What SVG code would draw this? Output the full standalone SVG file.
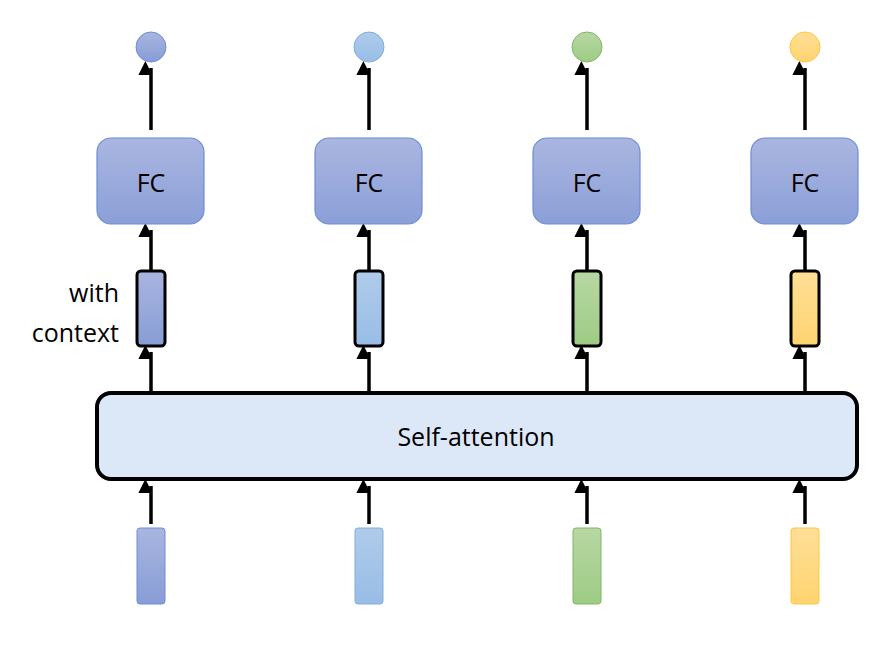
<svg xmlns="http://www.w3.org/2000/svg" width="896" height="648" viewBox="0 0 896 648">
<style>
text{font-family:"Open Sans","Liberation Sans",sans-serif;fill:#000}
.fc{stroke:#6d8ed6;stroke-width:1.2;fill:url(#gFC)}
.ctx{stroke:#000;stroke-width:3}
.arr{stroke:#000;stroke-width:3.5;fill:none;marker-end:url(#ah)}
</style>
<defs>
<marker id="ah" viewBox="0 0 10 10" refX="5" refY="9" markerWidth="4" markerHeight="4" orient="auto-start-reverse" markerUnits="strokeWidth"><path d="M0,10 L5,0 L10,10 z" fill="#000" transform="rotate(90 5 5)"/></marker>
<linearGradient id="gFC" x1="0" y1="0" x2="0" y2="1"><stop offset="0" stop-color="#aab6e0"/><stop offset="1" stop-color="#8b9fd8"/></linearGradient>
<linearGradient id="g1" x1="0" y1="0" x2="0" y2="1"><stop offset="0" stop-color="#a9b5e0"/><stop offset="1" stop-color="#879dd6"/></linearGradient>
<linearGradient id="g2" x1="0" y1="0" x2="0" y2="1"><stop offset="0" stop-color="#b0cbea"/><stop offset="1" stop-color="#98bde6"/></linearGradient>
<linearGradient id="g3" x1="0" y1="0" x2="0" y2="1"><stop offset="0" stop-color="#b8d7a4"/><stop offset="1" stop-color="#9dcc84"/></linearGradient>
<linearGradient id="g4" x1="0" y1="0" x2="0" y2="1"><stop offset="0" stop-color="#ffdf97"/><stop offset="1" stop-color="#ffd470"/></linearGradient>
</defs>
<g id="connectors">
<line class="arr" x1="151" y1="130" x2="151" y2="68"/><line class="arr" x1="369" y1="130" x2="369" y2="68"/><line class="arr" x1="587" y1="130" x2="587" y2="68"/><line class="arr" x1="805" y1="130" x2="805" y2="68"/>
<line class="arr" x1="151" y1="270" x2="151" y2="230"/><line class="arr" x1="369" y1="270" x2="369" y2="230"/><line class="arr" x1="587" y1="270" x2="587" y2="230"/><line class="arr" x1="805" y1="270" x2="805" y2="230"/>
<line class="arr" x1="151" y1="392" x2="151" y2="352"/><line class="arr" x1="369" y1="392" x2="369" y2="352"/><line class="arr" x1="587" y1="392" x2="587" y2="352"/><line class="arr" x1="805" y1="392" x2="805" y2="352"/>
<line class="arr" x1="151" y1="524" x2="151" y2="486"/><line class="arr" x1="369" y1="524" x2="369" y2="486"/><line class="arr" x1="587" y1="524" x2="587" y2="486"/><line class="arr" x1="805" y1="524" x2="805" y2="486"/>
</g>
<g id="out1"><circle cx="151" cy="47" r="15" fill="url(#g1)" stroke="#6d8ed6"/></g>
<g id="out2"><circle cx="369" cy="47" r="15" fill="url(#g2)" stroke="#7eaee0"/></g>
<g id="out3"><circle cx="587" cy="47" r="15" fill="url(#g3)" stroke="#7fb764"/></g>
<g id="out4"><circle cx="805" cy="47" r="15" fill="url(#g4)" stroke="#ffc740"/></g>
<g id="fc1"><rect class="fc" x="97" y="138" width="107" height="86" rx="14"/><text x="151" y="192" font-size="25" text-anchor="middle">FC</text></g>
<g id="fc2"><rect class="fc" x="315" y="138" width="107" height="86" rx="14"/><text x="369" y="192" font-size="25" text-anchor="middle">FC</text></g>
<g id="fc3"><rect class="fc" x="533" y="138" width="107" height="86" rx="14"/><text x="587" y="192" font-size="25" text-anchor="middle">FC</text></g>
<g id="fc4"><rect class="fc" x="751" y="138" width="107" height="86" rx="14"/><text x="805" y="192" font-size="25" text-anchor="middle">FC</text></g>
<g id="label"><text x="119" y="302" font-size="25" text-anchor="end">with</text><text x="119" y="342" font-size="25" text-anchor="end">context</text></g>
<g id="ctx1"><rect class="ctx" x="137" y="271" width="28" height="75" rx="4" fill="url(#g1)"/></g>
<g id="ctx2"><rect class="ctx" x="355" y="271" width="28" height="75" rx="4" fill="url(#g2)"/></g>
<g id="ctx3"><rect class="ctx" x="573" y="271" width="28" height="75" rx="4" fill="url(#g3)"/></g>
<g id="ctx4"><rect class="ctx" x="791" y="271" width="28" height="75" rx="4" fill="url(#g4)"/></g>
<g id="selfatt"><rect x="97" y="393" width="760" height="86" rx="14" fill="#dce8f7" stroke="#000" stroke-width="4"/><text x="476" y="446" font-size="25" text-anchor="middle">Self-attention</text></g>
<g id="in1"><rect x="137" y="528" width="28" height="76" rx="3" fill="url(#g1)" stroke="#6d8ed6"/></g>
<g id="in2"><rect x="355" y="528" width="28" height="76" rx="3" fill="url(#g2)" stroke="#7eaee0"/></g>
<g id="in3"><rect x="573" y="528" width="28" height="76" rx="3" fill="url(#g3)" stroke="#7fb764"/></g>
<g id="in4"><rect x="791" y="528" width="28" height="76" rx="3" fill="url(#g4)" stroke="#ffc740"/></g>
</svg>
